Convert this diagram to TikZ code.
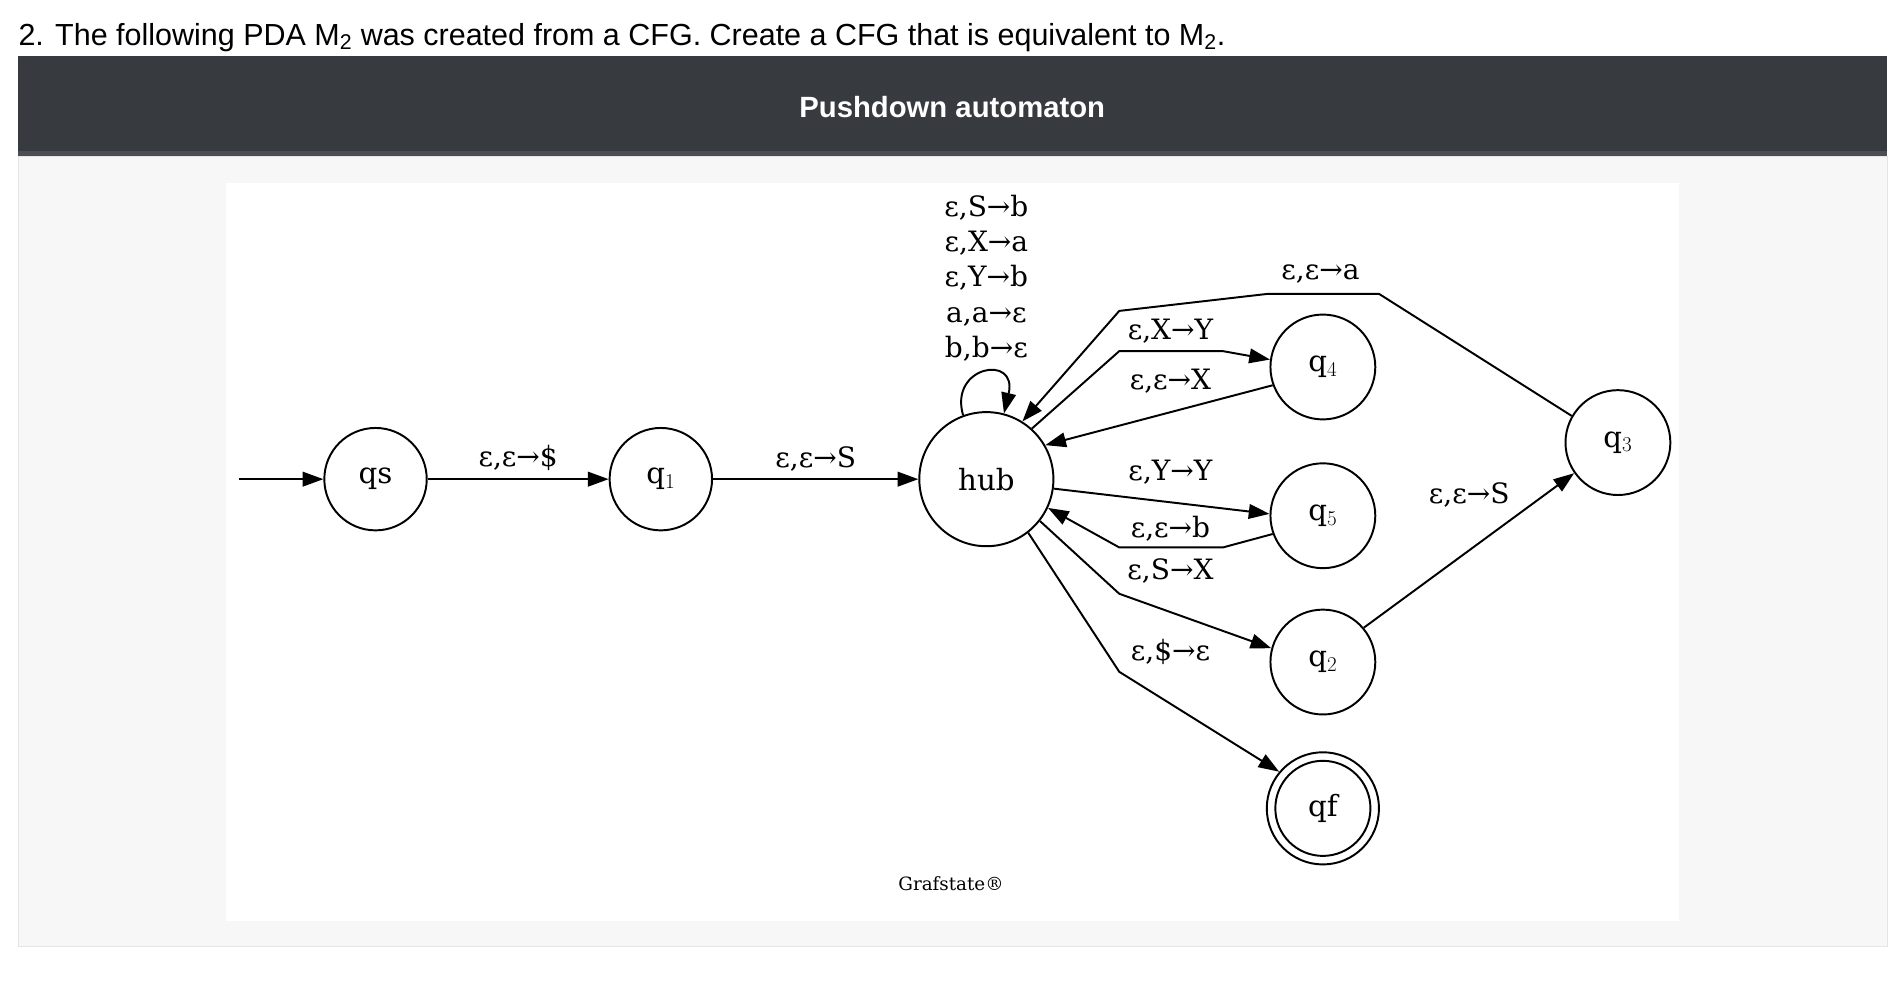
\documentclass[tikz,border=0pt]{standalone}
\usepackage{fontspec}
\setmainfont{DejaVu Serif}
\newfontfamily\hdr{Liberation Sans}
\usetikzlibrary{arrows.meta}
\begin{document}
\begin{tikzpicture}[x=1pt,y=-1pt,
  st/.style={circle,draw,line width=1.6pt,minimum size=84pt,inner sep=0pt,font=\fontsize{24}{28}\selectfont},
  lbl/.style={font=\fontsize{23}{29}\selectfont,inner sep=0pt},
  ed/.style={line width=1.6pt,-{Triangle[length=17pt,width=12pt]}},
  qs/.style={line width=1.6pt}]
\useasboundingbox (0,0) rectangle (1560,808);
\fill[white] (0,0) rectangle (1560,808);
\node[anchor=base west,inner sep=0pt,font=\hdr\fontsize{25}{30}\selectfont] (title) at (15,37) {2. The following PDA M\textsubscript{2} was created from a CFG. Create a CFG that is equivalent to M\textsubscript{2}.};
\fill[black!3,draw=black!10] (15,128) rectangle (1548,776);
\fill[fill={rgb,255:red,55;green,58;blue,62}] (15,46) rectangle (1548,128);
\fill[fill={rgb,255:red,75;green,78;blue,82}] (15,124) rectangle (1548,128);
\node[text=white,font=\hdr\bfseries\fontsize{24}{28}\selectfont] (hd) at (781,88) {Pushdown automaton};
\fill[white] (185,150) rectangle (1377,755);
\node[st] (qs) at (308,393) {qs};
\node[st] (q1) at (542,393) {q$_1$};
\node[st,minimum size=110pt] (hub) at (809,393) {hub};
\node[st,minimum size=86pt] (q4) at (1085,301) {q$_4$};
\node[st,minimum size=86pt] (q5) at (1085,423) {q$_5$};
\node[st,minimum size=86pt] (q2) at (1085,543) {q$_2$};
\node[st,minimum size=86pt] (q3) at (1327,363) {q$_3$};
\node[st,minimum size=92pt] (qf) at (1085,663) {};
\node[st,minimum size=78pt] (qfi) at (1085,663) {qf};
\coordinate (init) at (196,393);
\draw[ed] (init) -- (qs);
\draw[ed] (qs) -- node[lbl,above=6pt]{ε,ε→\$} (q1);
\draw[ed] (q1) -- node[lbl,above=6pt]{ε,ε→S} (hub);
\draw[ed] (hub.110) .. controls (778,300) and (835,290) .. (hub.75);
\node[lbl,align=center] (loop) at (809,228) {ε,S→b\\ε,X→a\\ε,Y→b\\a,a→ε\\b,b→ε};
\draw[ed] (hub.48) -- (918,288) -- (1003,288) -- (q4.172);
\node[lbl] (l1) at (960,272) {ε,X→Y};
\draw[ed] (q4.200) -- (hub.30);
\node[lbl] (l2) at (960,313) {ε,ε→X};
\draw[ed] (q3.150) -- (1131,241) -- (1040,241) -- (918,255) -- (hub.58);
\node[lbl] (l3) at (1083,225) {ε,ε→a};
\draw[ed] (hub.-8) -- (q5.178);
\node[lbl] (l4) at (960,387) {ε,Y→Y};
\draw[ed] (q5.200) -- (1003,449) -- (918,449) -- (hub.-25);
\node[lbl] (l5) at (960,434) {ε,ε→b};
\draw[ed] (hub.-38) -- (918,487) -- (q2.165);
\node[lbl] (l6) at (960,468) {ε,S→X};
\draw[ed] (hub.-52) -- (918,551) -- (qf.140);
\node[lbl] (l7) at (960,535) {ε,\$→ε};
\draw[ed] (q2.40) -- (q3.215);
\node[lbl] (l8) at (1205,406) {ε,ε→S};
\node[font=\fontsize{15}{18}\selectfont] (gs) at (780,725) {Grafstate®};
\end{tikzpicture}
\end{document}
